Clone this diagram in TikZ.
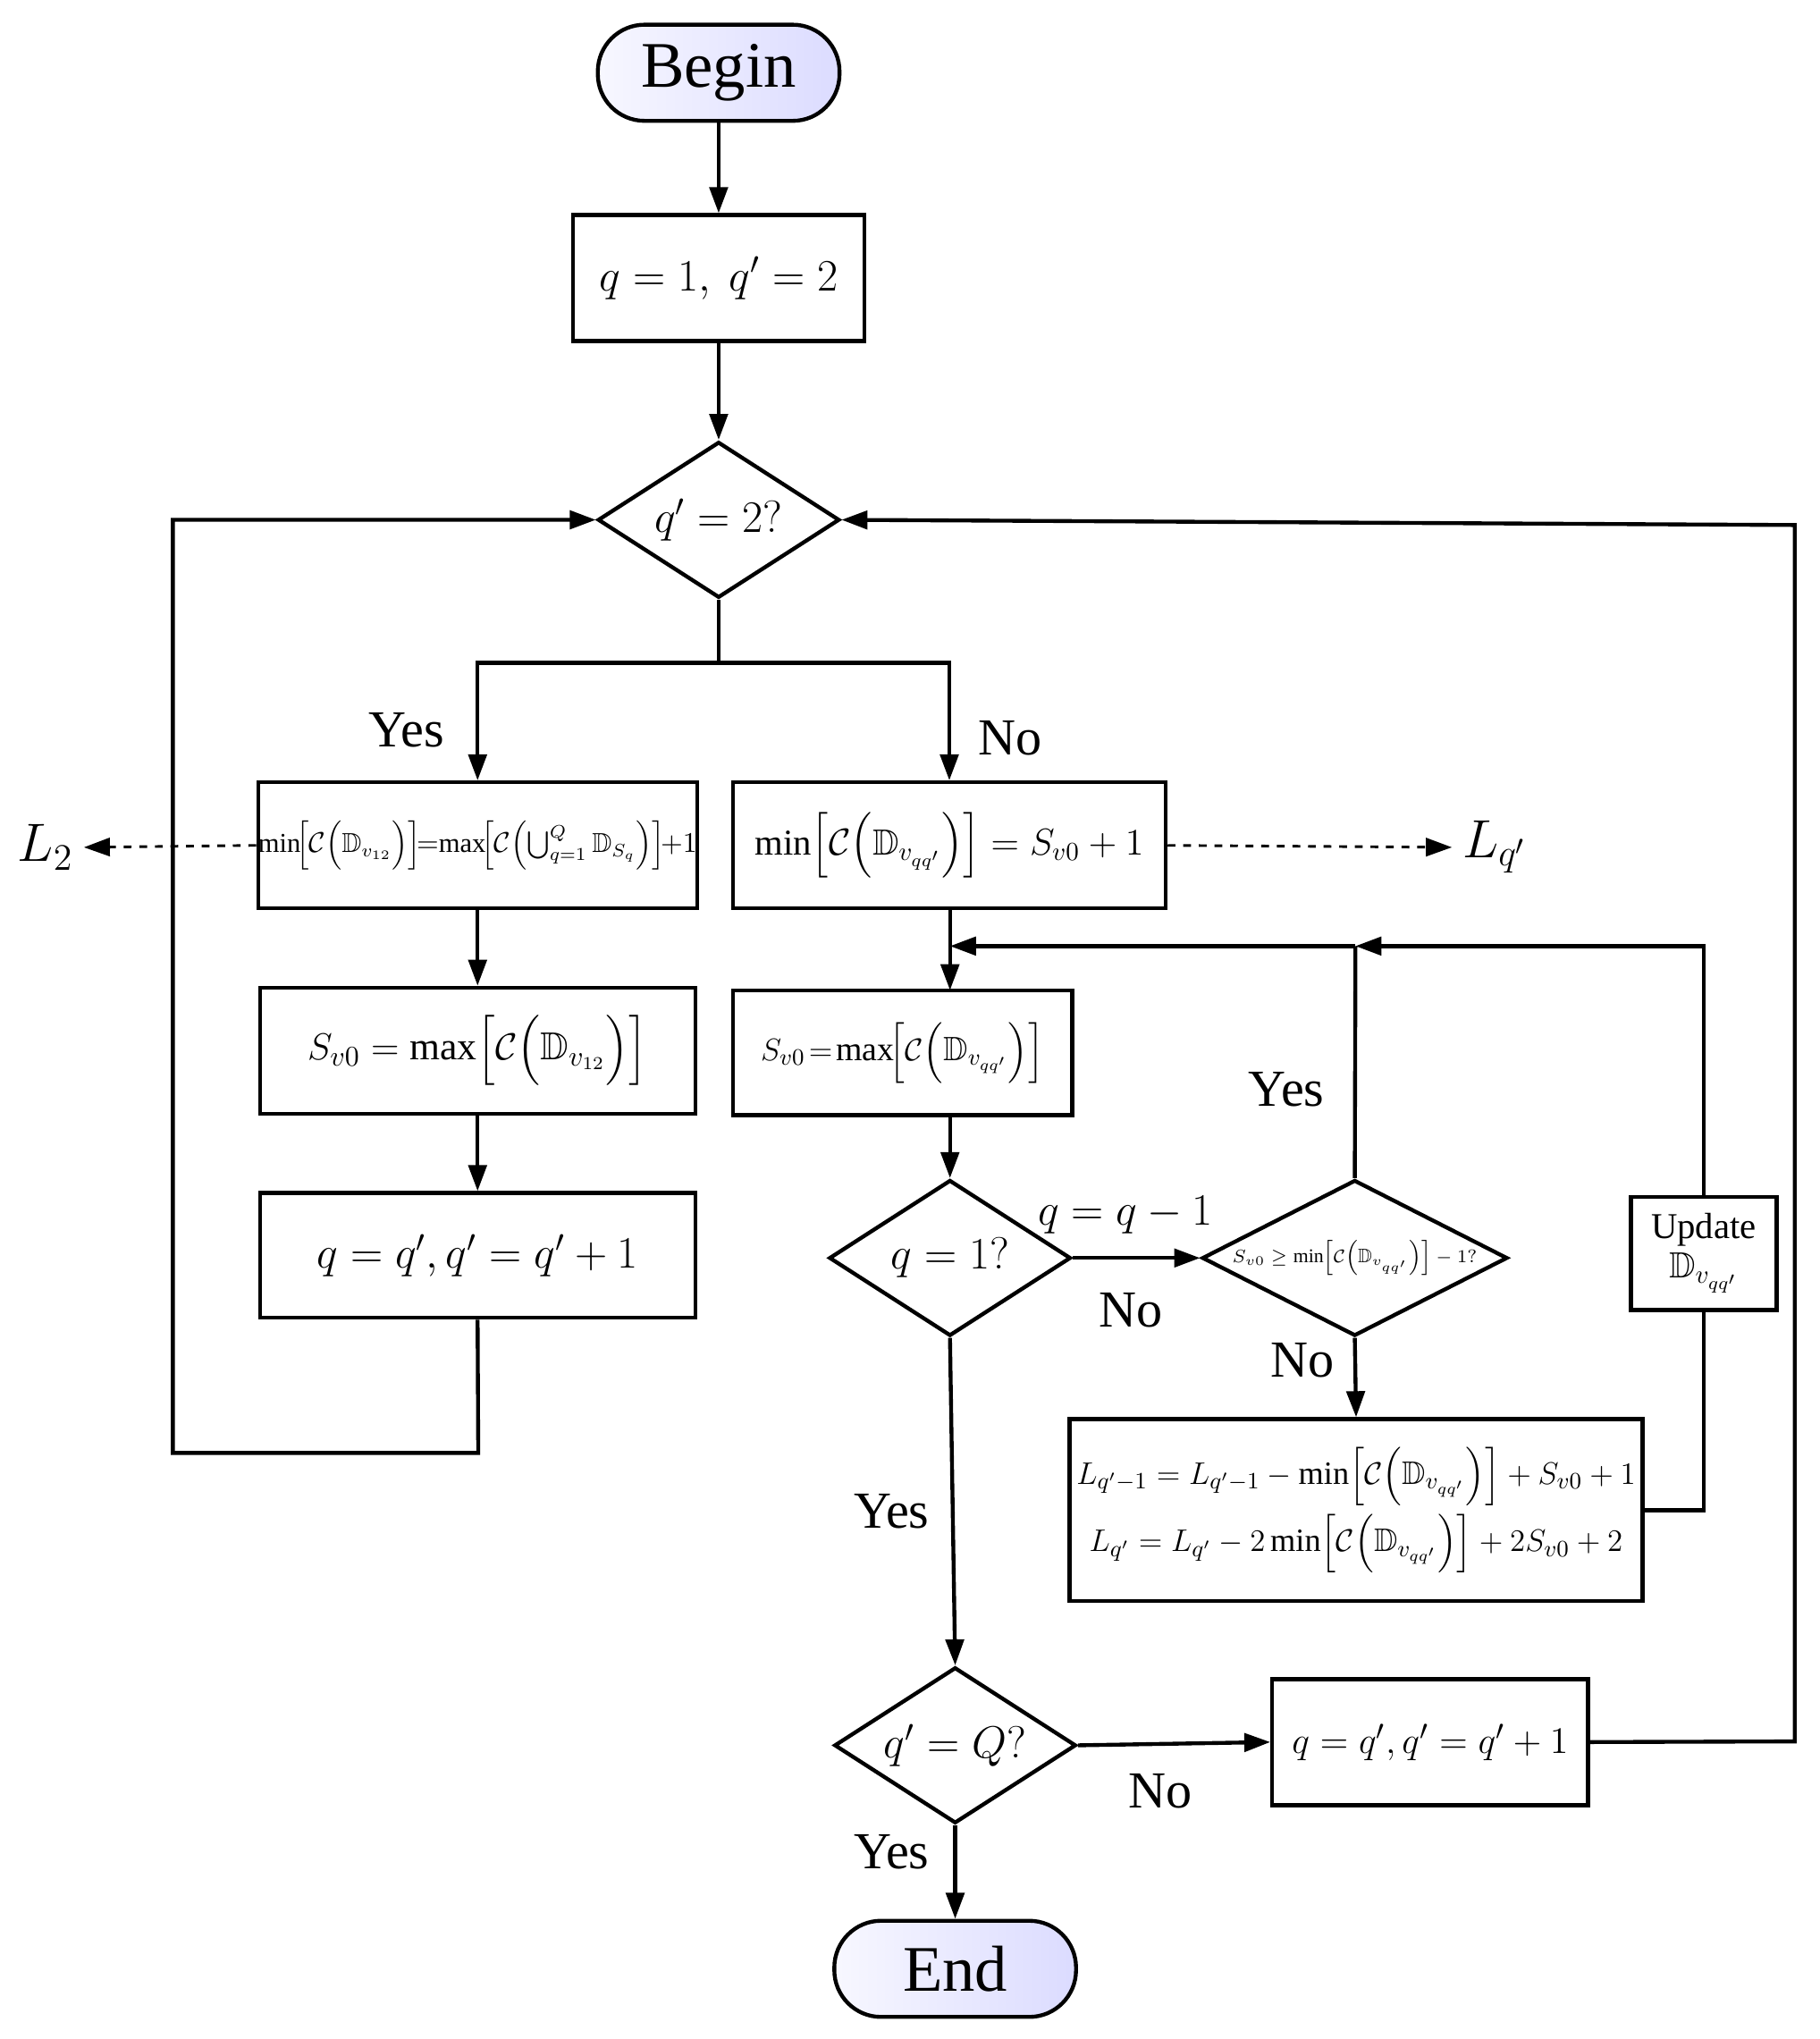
\documentclass[tikz,border=0pt]{standalone}
\usepackage{amsmath,amssymb}
\usepackage{fontspec}
\setmainfont{Liberation Serif}
\usetikzlibrary{arrows.meta,shapes.geometric}
\begin{document}
\begin{tikzpicture}[x=0.5pt,y=-0.5pt,
  line width=1.5pt,
  ar/.style={-{Triangle[length=10pt,width=7pt]}},
  box/.style={draw,rectangle,inner sep=0pt},
  term/.style={draw,rounded corners=18pt,minimum width=93pt,minimum height=37pt,left color=blue!3,right color=blue!14,font=\fontsize{25}{30}\selectfont},
  lab/.style={font=\fontsize{20}{24}\selectfont},
  fx/.style={font=\fontsize{17}{21}\selectfont}]
\useasboundingbox (0,0) rectangle (1400,1569);
\node[term] (begin) at (553,56) {Begin};
\node[box,minimum width=112pt,minimum height=48.5pt,fx] (init) at (553,214) {$q=1,\ q'=2$};
\node[draw,diamond,minimum width=93pt,minimum height=60pt,inner sep=0pt] (d1) at (553,400) {};
\node[fx] at (553,400) {$q'=2?$};
\node[box,minimum width=167.5pt,minimum height=48.5pt] (a1) at (367.5,650.5) {\fontsize{10.5}{12}\selectfont$\min\!\Bigl[\mathcal{C}\Bigl(\mathbb{D}_{v_{12}}\Bigr)\Bigr]\!{=}\!\max\!\Bigl[\mathcal{C}\Bigl(\textstyle\bigcup_{q=1}^{Q}\mathbb{D}_{S_q}\Bigr)\Bigr]\!{+}1$};
\node[box,minimum width=166.5pt,minimum height=48.5pt,font=\fontsize{14}{18}\selectfont] (b1) at (730.5,650.5) {$\min\Bigl[\mathcal{C}\Bigl(\mathbb{D}_{v_{qq'}}\Bigr)\Bigr]=S_{v0}+1$};
\node[box,minimum width=167.5pt,minimum height=48.5pt,font=\fontsize{15}{18}\selectfont] (a2) at (367.5,808.5) {$S_{v0}=\max\Bigl[\mathcal{C}\Bigl(\mathbb{D}_{v_{12}}\Bigr)\Bigr]$};
\node[box,minimum width=130.5pt,minimum height=48pt,font=\fontsize{13}{18}\selectfont] (b2) at (694.5,810) {$S_{v0}\!=\!\max\!\Bigl[\mathcal{C}\Bigl(\mathbb{D}_{v_{qq'}}\Bigr)\Bigr]$};
\node[box,minimum width=167.5pt,minimum height=48pt,fx] (a3) at (367.5,966) {$q=q',q'=q'+1$};
\node[draw,diamond,minimum width=93pt,minimum height=60pt,inner sep=0pt] (d2) at (731,968) {};
\node[fx] at (731,968) {$q=1?$};
\node[draw,diamond,minimum width=117.5pt,minimum height=60pt,inner sep=0pt] (d3) at (1042.5,968) {};
\node[font=\fontsize{7.5}{9}\selectfont] at (1042.5,968) {$S_{v0}\ge\min\Bigl[\mathcal{C}\Bigl(\mathbb{D}_{v_{qq'}}\Bigr)\Bigr]-1?$};
\node[box,minimum width=220.5pt,minimum height=70pt,align=center,font=\fontsize{12.5}{26}\selectfont] (c) at (1043.5,1162) {$L_{q'-1}=L_{q'-1}-\min\Bigl[\mathcal{C}\Bigl(\mathbb{D}_{v_{qq'}}\Bigr)\Bigr]+S_{v0}+1$\\ $L_{q'}=L_{q'}-2\min\Bigl[\mathcal{C}\Bigl(\mathbb{D}_{v_{qq'}}\Bigr)\Bigr]+2S_{v0}+2$};
\node[box,minimum width=56pt,minimum height=43.5pt,align=center,font=\fontsize{14}{15}\selectfont] (up) at (1311,964.5) {Update\\ $\mathbb{D}_{v_{qq'}}$};
\node[draw,diamond,minimum width=93pt,minimum height=60pt,inner sep=0pt] (d4) at (735,1343) {};
\node[fx] at (735,1343) {$q'=Q?$};
\node[box,minimum width=121.5pt,minimum height=48.5pt,font=\fontsize{15}{18}\selectfont] (dd) at (1100.5,1340.5) {$q=q',q'=q'+1$};
\node[term] (end) at (735,1515) {End};
\node[font=\fontsize{21}{24}\selectfont] (l2) at (35,652) {$L_2$};
\node[font=\fontsize{21}{24}\selectfont] (lq) at (1150,652) {$L_{q'}$};
% labels
\node[lab] at (313,562) {Yes};
\node[lab] at (777,568) {No};
\node[lab] at (990,838) {Yes};
\node[lab] at (870,1008) {No};
\node[font=\fontsize{16}{20}\selectfont] at (866,935) {$q=q-1$};
\node[lab] at (1002,1047) {No};
\node[lab] at (686,1163) {Yes};
\node[lab] at (893,1378) {No};
\node[lab] at (686,1425) {Yes};
% coordinates
\coordinate (j1) at (553,510);
\coordinate (t) at (1043,728);
% connectors
\draw[ar] (begin) -- (init);
\draw[ar] (init) -- (d1);
\draw (d1.south) -- (j1);
\draw[ar] (j1) -| (a1.north);
\draw[ar] (j1) -| (b1.north);
\draw[ar] (a1) -- (a2);
\draw[ar] (a2) -- (a3);
\draw[ar] (a3.south) -- (368,1118) -- (133,1118) -- (133,400) -- (d1.west);
\draw[dashed,line width=1pt,ar] (a1.west) -- (l2.east);
\draw[dashed,line width=1pt,ar] (b1.east) -- (lq.west);
\draw[ar] (731,699) -- (731,762);
\draw[ar] (731,858) -- (d2.north);
\draw[ar] (d2.east) -- (d3.west);
\draw (d3.north) -- (t);
\draw[ar] (t) -- (731,728);
\draw[ar] (d3.south) -- (c.north);
\draw (c.east) -| (up.south);
\draw[ar] (up.north) |- (t);
\draw[ar] (d2.south) -- (d4.north);
\draw[ar] (d4.east) -- (dd.west);
\draw[ar] (d4.south) -- (end.north);
\draw[ar] (dd.east) -- (1381,1340) -- (1381,404) -- (d1.east);
\end{tikzpicture}
\end{document}
